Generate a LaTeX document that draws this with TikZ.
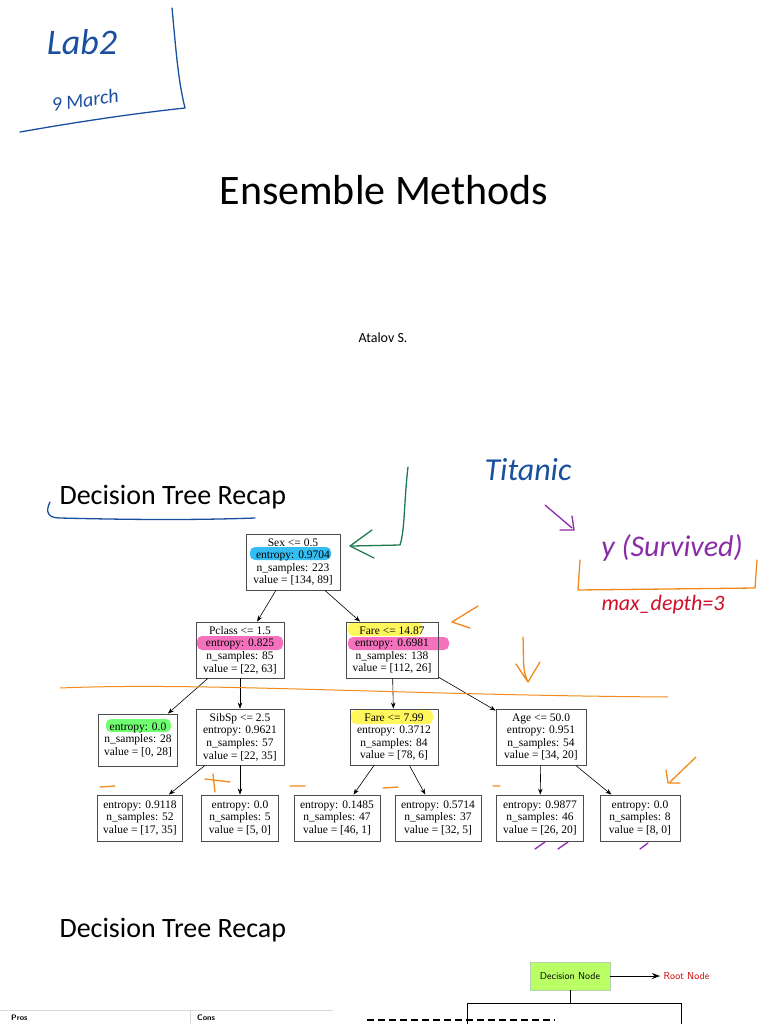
\documentclass[tikz,border=0pt]{standalone}
\usepackage{fontspec}
\setmainfont{Carlito}
\newfontfamily\tms{Liberation Serif}
\usetikzlibrary{arrows.meta}
\definecolor{hblue}{HTML}{1A4FA0}
\definecolor{horange}{HTML}{F08A1C}
\definecolor{hpurple}{HTML}{8A2BA8}
\definecolor{hgreen}{HTML}{1E7A4E}
\definecolor{hred}{HTML}{D0102A}
\tikzset{
 tb/.style={draw=black!70,line width=0.8pt,fill=white,font=\tms\fontsize{11.5}{12.6}\selectfont,align=center,inner sep=1pt,minimum height=56pt,minimum width=88pt},
 ed/.style={-{Stealth[length=6pt]},line width=0.6pt},
 hl/.style={rounded corners=5pt,opacity=0.8},
 hw/.style={line width=1.3pt,line cap=round,line join=round},
}
\begin{document}
\begin{tikzpicture}[x=1pt,y=-1pt]
\useasboundingbox (0,0) rectangle (768,1024);
% handwriting top
\node[hblue,font=\fontsize{36}{36}\selectfont\itshape] (lab) at (82,42) {Lab2};
\node[hblue,font=\fontsize{20}{20}\selectfont\itshape,rotate=8] (mar) at (85,100) {9 March};
\draw[hblue,hw] (172,8) .. controls (176,50) and (178,80) .. (185,108) .. controls (120,115) and (60,125) .. (20,132);
% titles
\node[font=\fontsize{42}{42}\selectfont] (title) at (384,190) {Ensemble Methods};
\node[font=\fontsize{14}{14}\selectfont] (auth) at (383,338) {Atalov S.};
\node[font=\fontsize{28}{28}\selectfont,anchor=west] (dt1) at (56,497) {Decision Tree Recap};
\draw[hblue,hw] (50,502) .. controls (45,512) and (48,518) .. (60,518) .. controls (140,520) and (200,520) .. (255,518);
\node[font=\fontsize{28}{28}\selectfont,anchor=west] (dt2) at (56,930) {Decision Tree Recap};
% highlights
\fill[cyan,hl] (250,547) rectangle (331,560);
\fill[magenta!70,hl] (197,636) rectangle (283,650);
\fill[yellow!80,hl] (348,622) rectangle (422,636);
\fill[magenta!70,hl] (348,637) rectangle (449,650);
\fill[green!70,hl] (106,719) rectangle (171,732);
\fill[yellow!80,hl] (351,710) rectangle (433,724);
% tree
\begin{scope}[every node/.style={tb}]
\node[fill=none,minimum width=94pt] (r) at (293,562) {Sex <= 0.5\\entropy: 0.9704\\n\_samples: 223\\value = [134, 89]};
\node[fill=none] (p) at (240,650) {Pclass <= 1.5\\entropy: 0.825\\n\_samples: 85\\value = [22, 63]};
\node[fill=none,minimum width=92pt] (f1) at (392,650) {Fare <= 14.87\\entropy: 0.6981\\n\_samples: 138\\value = [112, 26]};
\node[fill=none,minimum height=52pt,minimum width=79pt] (l0) at (138,740) {entropy: 0.0\\n\_samples: 28\\value = [0, 28]};
\node (s) at (240,737) {SibSp <= 2.5\\entropy: 0.9621\\n\_samples: 57\\value = [22, 35]};
\node[fill=none] (f2) at (394,737) {Fare <= 7.99\\entropy: 0.3712\\n\_samples: 84\\value = [78, 6]};
\node[minimum width=90pt] (a) at (541,737) {Age <= 50.0\\entropy: 0.951\\n\_samples: 54\\value = [34, 20]};
\node[minimum height=46pt,minimum width=85pt] (b1) at (140,818) {entropy: 0.9118\\n\_samples: 52\\value = [17, 35]};
\node[minimum height=46pt,minimum width=77pt] (b2) at (240,818) {entropy: 0.0\\n\_samples: 5\\value = [5, 0]};
\node[minimum height=46pt,minimum width=86pt] (b3) at (337,818) {entropy: 0.1485\\n\_samples: 47\\value = [46, 1]};
\node[minimum height=46pt,minimum width=86pt] (b4) at (438,818) {entropy: 0.5714\\n\_samples: 37\\value = [32, 5]};
\node[minimum height=46pt,minimum width=87pt] (b5) at (540,818) {entropy: 0.9877\\n\_samples: 46\\value = [26, 20]};
\node[minimum height=46pt,minimum width=80pt] (b6) at (640,818) {entropy: 0.0\\n\_samples: 8\\value = [8, 0]};
\end{scope}
\draw[ed] (r) -- (p); \draw[ed] (r) -- (f1);
\draw[ed] (p) -- (l0); \draw[ed] (p) -- (s);
\draw[ed] (f1) -- (f2); \draw[ed] (f1) -- (a);
\draw[ed] (s) -- (b1); \draw[ed] (s) -- (b2);
\draw[ed] (f2) -- (b3); \draw[ed] (f2) -- (b4);
\draw[ed] (a) -- (b5); \draw[ed] (a) -- (b6);
% annotations
\draw[hgreen,hw] (408,467) .. controls (404,500) and (405,530) .. (400,545) -- (352,546);
\draw[hgreen,hw] (372,530) -- (350,546) -- (374,558);
\node[hblue,font=\fontsize{32}{32}\selectfont\itshape] (tit) at (528,470) {Titanic};
\draw[hpurple,hw] (545,505) -- (572,528) (560,530) -- (574,530) -- (572,516);
\node[hpurple,font=\fontsize{30}{30}\selectfont\itshape] (y) at (672,548) {y (Survived)};
\draw[horange,hw] (580,560) -- (578,590) -- (755,588) -- (757,560);
\node[hred,font=\fontsize{22}{22}\selectfont\itshape] (md) at (663,605) {max\_depth=3};
\draw[horange,hw] (478,606) -- (452,622) -- (470,628);
\draw[horange,hw] (523,637) .. controls (524,660) and (522,670) .. (528,682) (516,664) -- (528,682) -- (540,662);
\draw[horange,line width=1pt] (60,688) .. controls (200,682) and (400,695) .. (668,697);
\draw[horange,hw] (100,787) -- (115,786) (290,786) -- (305,786) (383,788) -- (398,787) (493,786) -- (500,786);
\draw[horange,hw] (205,779) -- (230,782) (213,774) -- (215,792);
\draw[horange,hw] (696,757) -- (670,782) (666,770) -- (668,783) -- (680,783);
\draw[hpurple,hw] (535,849) -- (545,842) (558,849) -- (568,842) (640,849) -- (648,843);
% bottom diagram
\node[fill=green!45!yellow!60,draw=green!40!black!30,minimum width=80pt,minimum height=28pt,font=\sffamily\fontsize{10}{10}\selectfont] (dn) at (570,976) {Decision Node};
\node[red!80!black,font=\sffamily\fontsize{10}{10}\selectfont,anchor=west] (rn) at (660,976) {Root Node};
\draw[-{Stealth[length=8pt]},line width=1pt] (dn) -- (rn);
\coordinate (j) at (570,1003);
\draw[line width=0.8pt] (dn.south) -- (j) (467,1003) -- (681,1003) (467,1003) -- (467,1024) (681,1003) -- (681,1024);
\draw[dash pattern=on 7pt off 4pt,line width=1.2pt] (367,1020) -- (555,1020);
\draw[black!15] (0,1010) -- (333,1010) (190,1010) -- (190,1024);
\node[font=\sffamily\bfseries\fontsize{8}{8}\selectfont,anchor=west,inner sep=1pt] (pros) at (10,1018) {Pros};
\node[font=\sffamily\bfseries\fontsize{8}{8}\selectfont,anchor=west,inner sep=1pt] (cons) at (196,1018) {Cons};
\end{tikzpicture}
\end{document}
